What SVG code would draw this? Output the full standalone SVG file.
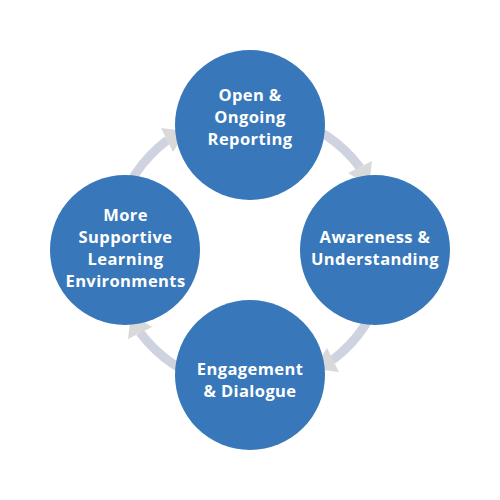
<svg xmlns="http://www.w3.org/2000/svg" width="500" height="500" viewBox="0 0 500 500">
  <style>
    .arc { fill: none; stroke: #CFD3DF; stroke-width: 9; }
    .head { fill: #D9D9D9; }
    .node { fill: #3878BA; }
    .label { fill: #FFFFFF; font-family: "Open Sans", "DejaVu Sans", sans-serif; font-weight: 700; font-size: 16.5px; letter-spacing: 0.4px; text-anchor: middle; }
  </style>
  <rect width="500" height="500" fill="#FFFFFF"/>
  <defs>
    <g id="connector">
      <path class="arc" d="M 285.5 117.7 A 137 137 0 0 1 360 167.5"/>
      <polygon class="head" points="369,186 348,173 372,161"/>
    </g>
  </defs>
  <g id="connectors">
    <use href="#connector"/>
    <use href="#connector" transform="rotate(90 250 250)"/>
    <use href="#connector" transform="rotate(180 250 250)"/>
    <use href="#connector" transform="rotate(270 250 250)"/>
  </g>
  <g id="node-open-reporting">
    <circle class="node" cx="250" cy="125" r="75"/>
    <text class="label" x="250" y="101">Open &amp;</text>
    <text class="label" x="250" y="123">Ongoing</text>
    <text class="label" x="250" y="144.5">Reporting</text>
  </g>
  <g id="node-awareness">
    <circle class="node" cx="375" cy="250" r="75"/>
    <text class="label" x="375" y="243">Awareness &amp;</text>
    <text class="label" x="375" y="265">Understanding</text>
  </g>
  <g id="node-engagement">
    <circle class="node" cx="250" cy="375" r="75"/>
    <text class="label" x="250" y="375">Engagement</text>
    <text class="label" x="250" y="396.5">&amp; Dialogue</text>
  </g>
  <g id="node-supportive">
    <circle class="node" cx="125" cy="250" r="75"/>
    <text class="label" x="125.5" y="221">More</text>
    <text class="label" x="125.5" y="243">Supportive</text>
    <text class="label" x="125.5" y="265">Learning</text>
    <text class="label" x="125.5" y="287">Environments</text>
  </g>
</svg>
